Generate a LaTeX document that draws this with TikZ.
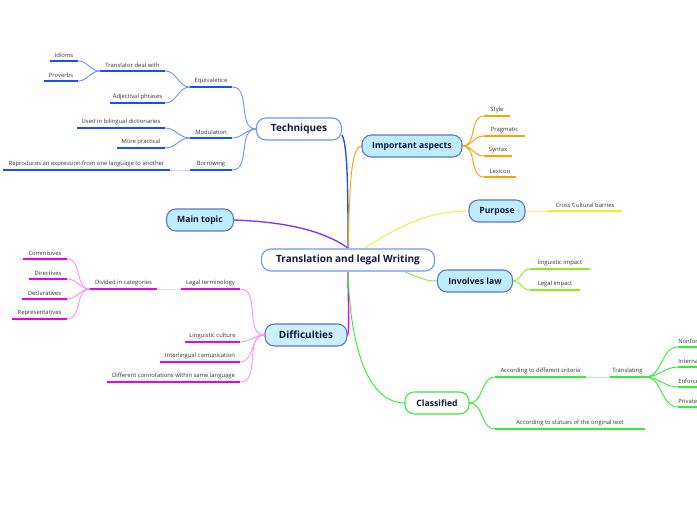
\documentclass[tikz,border=0pt]{standalone}
\usepackage{fontspec}
\setmainfont{Open Sans}
\definecolor{bl}{HTML}{1A4FF0}\definecolor{blc}{HTML}{6A96FF}
\definecolor{mg}{HTML}{EE00EE}\definecolor{mgc}{HTML}{FF90FF}
\definecolor{og}{HTML}{FFA000}\definecolor{ye}{HTML}{EEEE22}
\definecolor{gr}{HTML}{33EE33}\definecolor{lg}{HTML}{88EE22}
\definecolor{pu}{HTML}{7733FF}\definecolor{tx}{HTML}{0D1A40}
\tikzset{lf/.style={font=\fontsize{4.4}{5}\selectfont, text=black!80, inner xsep=0pt, inner ysep=2.2pt},
 topic/.style={rounded corners=7pt, draw=#1, line width=0.8pt, font=\bfseries\fontsize{6.5}{8}\selectfont, text=tx, minimum height=16.5pt, inner xsep=2pt},
 cn/.style={line width=0.7pt}}
\newcommand\lf[6]{\node[lf, minimum width={(#3-#2)*0.75pt}, anchor=south] (#1) at ({(#2+#3)/2},#4) {#6};
 \draw[#5, line width=1.3pt] (#1.south west) -- (#1.south east);}
\newcommand\cl[3]{\draw[cn,#1] (#2.south east) to[out=0,in=180] (#3.south west);}
\begin{document}
\begin{tikzpicture}[x=0.75pt,y=-0.75pt]
\useasboundingbox (0,0) rectangle (697,520);
\clip (0,0) rectangle (697,520);
% root connectors (drawn first)
\coordinate (rt) at (348,248);
\coordinate (rb) at (348,272);
\draw[cn,bl,line width=1pt] (342,135) .. controls (348,145) and (348,200) .. (rt);
\draw[cn,pu,line width=1pt] (234,220) .. controls (290,222) and (325,232) .. (rt);
\draw[cn,og] (rt) .. controls (350,190) and (350,146) .. (362,146);
\draw[cn,ye] (365,248) .. controls (400,225) and (430,211) .. (469,211);
\draw[cn,lg] (405,272) .. controls (420,278) and (425,281) .. (437,281);
\draw[cn,mg,line width=1pt] (rb) .. controls (348,300) and (350,335) .. (347,336);
\draw[cn,gr] (rb) .. controls (350,340) and (365,403) .. (405,403);
\node[topic=blc, fill=white, minimum width=173*0.75pt, font=\bfseries\fontsize{7.5}{9}\selectfont] (root) at (348,260) {Translation and legal Writing};
\node[topic=blc, fill=white, minimum width=85*0.75pt, font=\bfseries\fontsize{7.5}{9}\selectfont] (tech) at (299,129) {Techniques};
\node[topic=blc!80!black, fill=blue!30!cyan!25, minimum width=67*0.75pt] (main) at (200,220) {Main topic};
\node[topic=blc!80!black, fill=cyan!20, minimum width=82*0.75pt, font=\bfseries\fontsize{7.5}{9}\selectfont] (diff) at (306,335) {Difficulties};
\node[topic=blc!80!black, fill=blue!30!cyan!25, minimum width=100*0.75pt] (imp) at (412,146) {Important aspects};
\node[topic=blc!80!black, fill=blue!30!cyan!25, minimum width=56*0.75pt] (pur) at (497,211) {Purpose};
\node[topic=blc!80!black, fill=blue!30!cyan!25, minimum width=75*0.75pt] (law) at (475,281) {Involves law};
\node[topic=gr, fill=white, minimum width=64*0.75pt] (cls) at (437,403) {Classified};
% Techniques
\lf{eq}{190}{232}{87}{bl}{Equivalence}
\lf{tdw}{100}{165}{71}{bl}{Translator deal with}
\lf{idi}{50}{78}{61}{bl}{Idioms}
\lf{pro}{44}{78}{81}{bl}{Proverbs}
\lf{adj}{110}{165}{103}{bl}{Adjectival phrases}
\lf{mod}{190}{232}{138}{bl}{Modulation}
\lf{ubd}{77}{165}{128}{bl}{Used in bilingual dictionaries}
\lf{mp}{117}{165}{148}{bl}{More practical}
\lf{bor}{190}{232}{170}{bl}{Borrowing}
\lf{rep}{3}{170}{170}{bl}{Reproduces an expression from one language to another}
\draw[cn,blc] (eq.south east) to[out=0,in=180] ([yshift=0pt]tech.west);
\draw[cn,blc] (mod.south east) to[out=0,in=180] ([yshift=0pt]tech.west);
\draw[cn,blc] (bor.south east) to[out=0,in=180] ([yshift=0pt]tech.west);
\cl{blc}{tdw}{eq}\cl{blc}{adj}{eq}\cl{blc}{idi}{tdw}\cl{blc}{pro}{tdw}
\cl{blc}{ubd}{mod}\cl{blc}{mp}{mod}\cl{blc!50}{rep}{bor}
% Difficulties
\lf{lt}{181}{240}{289}{mg}{Legal terminology}
\lf{dic}{90}{157}{289}{mg}{Divided in categories}
\lf{com}{23}{67}{259}{mg}{Commisives}
\lf{dir}{29}{67}{279}{mg}{Directives}
\lf{dec}{22}{67}{299}{mg}{Declaratives}
\lf{rps}{12}{67}{319}{mg}{Representatives}
\lf{lc}{185}{240}{342}{mg}{Linguistic culture}
\lf{ic}{160}{240}{362}{mg}{Interlingual comunication}
\lf{dc}{107}{240}{382}{mg}{Different connotations within same language}
\foreach \n in {lt,lc,ic,dc}{\draw[cn,mgc] (\n.south east) to[out=0,in=180] (diff.west);}
\cl{mgc!60}{dic}{lt}\cl{mgc}{com}{dic}\cl{mgc}{dir}{dic}\cl{mgc}{dec}{dic}\cl{mgc}{rps}{dic}
% Important aspects
\lf{sty}{484}{510}{116}{og}{Style}
\lf{pra}{484}{525}{136}{og}{Pragmatic}
\lf{syn}{484}{512}{156}{og}{Syntax}
\lf{lex}{484}{516}{177}{og}{Lexicon}
\foreach \n in {sty,pra,syn,lex}{\draw[cn,og] (imp.east) to[out=0,in=180] (\n.south west);}
% Purpose
\lf{ccb}{548}{622}{211}{ye}{Cross Cultural barries}
\draw[cn,ye] (pur.east) to[out=0,in=180] (ccb.south west);
% Involves law
\lf{li}{530}{590}{269}{lg}{linguistic impact}
\lf{le}{530}{580}{290}{lg}{Legal impact}
\draw[cn,lg] (law.east) to[out=0,in=180] (li.south west);
\draw[cn,lg] (law.east) to[out=0,in=180] (le.south west);
% Classified
\lf{adc}{495}{586}{377}{gr}{According to different criteria}
\lf{trn}{610}{645}{377}{gr}{Translating}
\lf{ast}{495}{645}{429}{gr}{According to statues of the original text}
\draw[cn,gr] (cls.east) to[out=0,in=180] (adc.south west);
\draw[cn,gr] (cls.east) to[out=0,in=180] (ast.south west);
\draw[cn,gr!40] (adc.south east) -- (trn.south west);
\node[lf, anchor=south west] (nf) at (678,347) {Nonforcible};
\node[lf, anchor=south west] (in) at (678,367) {International};
\node[lf, anchor=south west] (en) at (678,387) {Enforceable};
\node[lf, anchor=south west] (pv) at (678,407) {Private};
\foreach \n in {nf,in,en,pv}{\draw[gr,line width=1.3pt] (\n.south west) -- ++(30,0);
 \draw[cn,gr] (trn.south east) to[out=0,in=180] (\n.south west);}
\end{tikzpicture}
\end{document}
